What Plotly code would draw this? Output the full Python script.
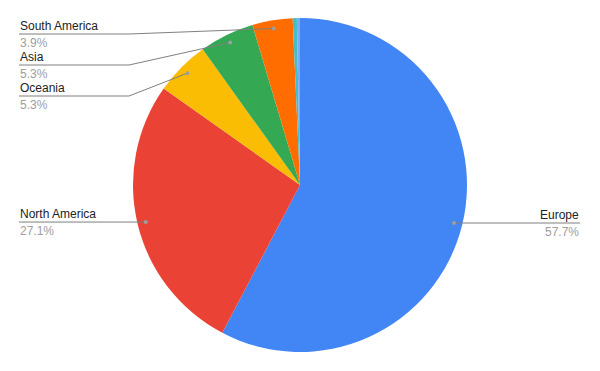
import math
import plotly.graph_objects as go

# Share of total by continent
continents = ["Europe", "North America", "Oceania", "Asia", "South America", "Africa", "Antarctica"]
shares = [57.7, 27.1, 5.3, 5.3, 3.9, 0.4, 0.3]
colors = ["#4285F4", "#EA4335", "#FBBC04", "#34A853", "#FF6D01", "#46BDC6", "#7BAAF7"]

W, H = 600, 371
cx, cy, r = 300, 185, 167

fig = go.Figure(go.Pie(
    labels=continents,
    values=shares,
    marker=dict(colors=colors, line=dict(width=0)),
    sort=False,
    direction="clockwise",
    rotation=0,
    textinfo="none",
    hoverinfo="label+percent",
    domain=dict(x=[(cx - r) / W, (cx + r) / W], y=[1 - (cy + r) / H, 1 - (cy - r) / H]),
    showlegend=False,
))


def px(x):
    return x / W


def py(y):
    return 1 - y / H


total = sum(shares)
cum = 0.0
anchors = {}
for name, v in zip(continents, shares):
    mid = (cum + v / 2) / total * 2 * math.pi
    cum += v
    anchors[name] = (cx + 0.95 * r * math.sin(mid), cy - 0.95 * r * math.cos(mid))

# label placement: (side, label-line y or None for straight line)
labelled = {
    "Europe": ("right", None),
    "North America": ("left", None),
    "Oceania": ("left", 96),
    "Asia": ("left", 65),
    "South America": ("left", 34),
}

shapes = []
annotations = []
line_col = "#7f7f7f"
font_family = "Arial, Liberation Sans, sans-serif"
for name, (side, ly) in labelled.items():
    dx, dy = anchors[name]
    idx = continents.index(name)
    pct = f"{shares[idx] / total * 100:.1f}%"
    if ly is None:
        ly = dy
        pts = [(dx, dy)]
    else:
        pts = [(dx, dy), (129, ly)]
    end_x = 19 if side == "left" else 580
    pts.append((end_x, ly))
    path = "M " + " L ".join(f"{px(a)},{py(b)}" for a, b in pts)
    shapes.append(dict(type="path", xref="paper", yref="paper", path=path,
                       line=dict(color=line_col, width=1)))
    shapes.append(dict(type="circle", xref="paper", yref="paper",
                       x0=px(dx - 2), x1=px(dx + 2), y0=py(dy + 2), y1=py(dy - 2),
                       fillcolor="#9e9e9e", line=dict(width=0)))
    xanchor = "left" if side == "left" else "right"
    annotations.append(dict(x=px(end_x), y=py(ly - 8), xref="paper", yref="paper",
                            text=name, showarrow=False, xanchor=xanchor, yanchor="middle",
                            borderpad=0,
                            font=dict(family=font_family, size=12, color="#222222")))
    annotations.append(dict(x=px(end_x), y=py(ly + 9), xref="paper", yref="paper",
                            text=pct, showarrow=False, xanchor=xanchor, yanchor="middle",
                            borderpad=0,
                            font=dict(family=font_family, size=12, color="#9e9e9e")))

fig.update_layout(
    width=W, height=H,
    margin=dict(l=0, r=0, t=0, b=0),
    paper_bgcolor="white",
    plot_bgcolor="white",
    shapes=shapes,
    annotations=annotations,
)

fig.write_html("out.html")
